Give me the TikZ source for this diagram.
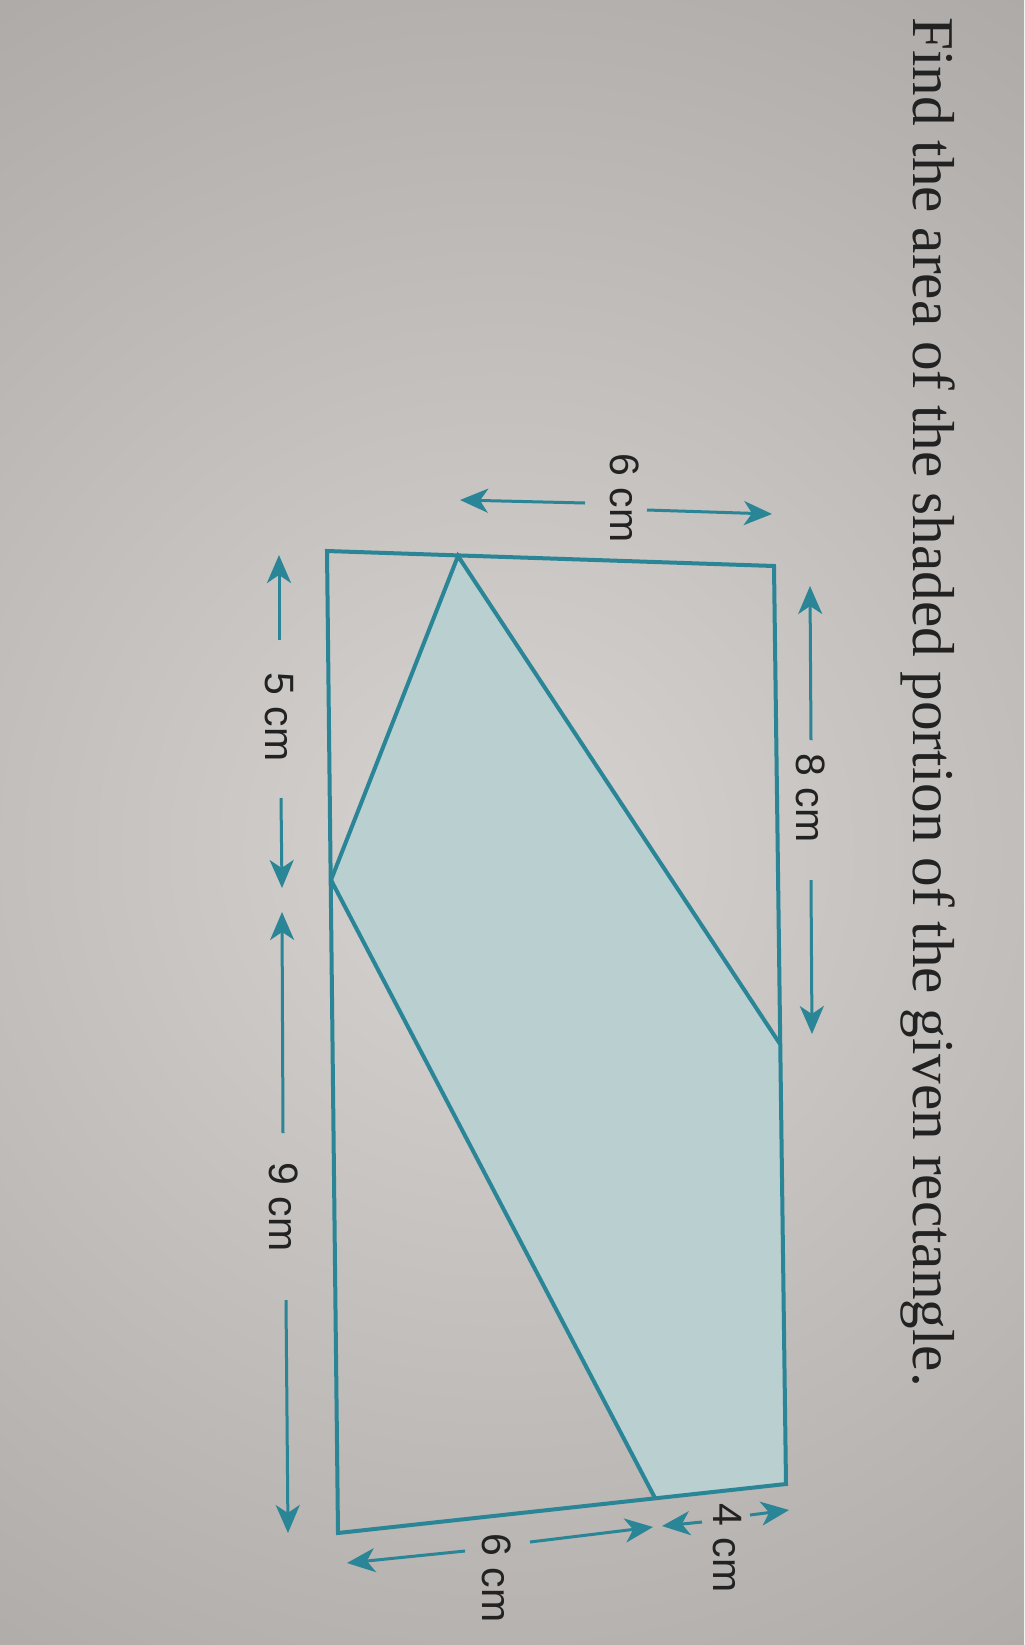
\documentclass[tikz,border=0pt]{standalone}
\usepackage{fontspec}
\setmainfont{Liberation Serif}
\newfontfamily\labfont{Liberation Sans}
\usetikzlibrary{arrows.meta}
\definecolor{paperdark}{HTML}{ABA8A5}
\definecolor{paperlight}{HTML}{D6D3D0}
\definecolor{figline}{HTML}{2A8596}
\definecolor{figfill}{HTML}{BACFD0}
\definecolor{inkcol}{HTML}{222222}
\begin{document}
\begin{tikzpicture}[x=0.5pt,y=-0.5pt,
  edge/.style={draw=figline, line width=2pt, line join=miter},
  dim/.style={draw=figline, line width=1.5pt, -{Stealth[length=14pt,width=12pt,inset=4pt]}},
  lab/.style={font=\labfont\fontsize{20.5}{22}\selectfont, text=inkcol, rotate=-90, inner sep=0pt},
  title/.style={font=\fontsize{29.6}{32}\selectfont, text=inkcol, rotate=-90, inner sep=0pt, anchor=base west}]
\path[use as bounding box] (0,0) rectangle (1024,1645);
\begin{scope}
  \clip (0,0) rectangle (1024,1645);
  \fill[paperdark] (0,0) rectangle (1024,1645);
  \shade[inner color=paperlight, outer color=paperdark] (500,850) circle[radius=1050];
\end{scope}
% title
\node[title] (ttl) at (913,17) {Find the area of the shaded portion of the given rectangle.};
% rectangle corners and vertices
\coordinate (A) at (327,551);
\coordinate (B) at (774,566);
\coordinate (C) at (786,1484);
\coordinate (D) at (338,1533);
\coordinate (P) at (458,556);
\coordinate (Q) at (780,1044);
\coordinate (R) at (655,1498);
\coordinate (S) at (331,880);
\fill[figfill] (P) -- (Q) -- (C) -- (R) -- (S) -- cycle;
\draw[edge] (A) -- (B) -- (C) -- (D) -- cycle;
\draw[edge] (S) -- (P) -- (Q);
\draw[edge] (S) -- (R);
% 8 cm
\node[lab] (l8) at (811,798) {8 cm};
\coordinate (a8s) at (811,740); \coordinate (a8t) at (810,586);
\coordinate (b8s) at (811,880); \coordinate (b8t) at (812,1034);
\draw[dim] (a8s) -- (a8t);
\draw[dim] (b8s) -- (b8t);
% 5 cm
\node[lab] (l5) at (279,717) {5 cm};
\coordinate (a5s) at (279,640); \coordinate (a5t) at (279,555);
\coordinate (b5s) at (281,798); \coordinate (b5t) at (282,888);
\draw[dim] (a5s) -- (a5t);
\draw[dim] (b5s) -- (b5t);
% 9 cm
\node[lab] (l9) at (284,1207) {9 cm};
\coordinate (a9s) at (283,1133); \coordinate (a9t) at (282,912);
\coordinate (b9s) at (286,1300); \coordinate (b9t) at (288,1533);
\draw[dim] (a9s) -- (a9t);
\draw[dim] (b9s) -- (b9t);
% 6 cm (top)
\node[lab] (l6a) at (625,498) {6 cm};
\coordinate (a6s) at (585,503); \coordinate (a6t) at (460,500);
\coordinate (b6s) at (647,510); \coordinate (b6t) at (772,514);
\draw[dim] (a6s) -- (a6t);
\draw[dim] (b6s) -- (b6t);
% 6 cm (bottom)
\node[lab] (l6b) at (497,1578) {6 cm};
\coordinate (c6s) at (465,1551); \coordinate (c6t) at (347,1563);
\coordinate (d6s) at (530,1542); \coordinate (d6t) at (653,1527);
\draw[dim] (c6s) -- (c6t);
\draw[dim] (d6s) -- (d6t);
% 4 cm
\node[lab] (l4) at (727,1548) {4 cm};
\coordinate (a4s) at (702,1522); \coordinate (a4t) at (662,1526);
\coordinate (b4s) at (750,1515); \coordinate (b4t) at (789,1510);
\draw[dim] (a4s) -- (a4t);
\draw[dim] (b4s) -- (b4t);
\end{tikzpicture}
\end{document}
